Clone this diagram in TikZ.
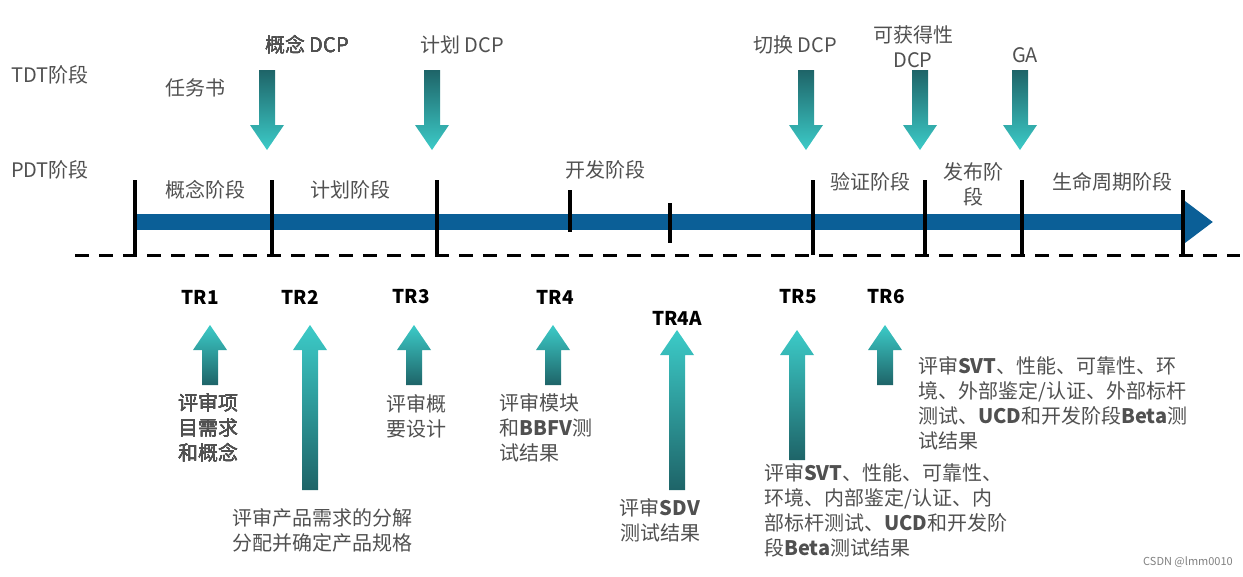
\documentclass[tikz,border=0pt]{standalone}
\usepackage{fontspec}
\setmainfont{Noto Sans CJK SC}
\usetikzlibrary{arrows.meta}
\definecolor{barblue}{HTML}{0B5F97}
\definecolor{tealdark}{HTML}{1E6468}
\definecolor{teallight}{HTML}{3CCBC8}
\definecolor{txtgray}{HTML}{505050}
% shaded block arrows: x, top y, tip/bottom y
\newcommand{\dnarrow}[3]{%
  \shade[top color=tealdark, bottom color=teallight]
    (#1-8,#2) -- (#1+8,#2) -- (#1+8,#3-25) -- (#1+17,#3-25) -- (#1,#3)
    -- (#1-17,#3-25) -- (#1-8,#3-25) -- cycle;}
\newcommand{\uparr}[3]{%
  \shade[top color=teallight, bottom color=tealdark]
    (#1-8,#3) -- (#1+8,#3) -- (#1+8,#2+25) -- (#1+17,#2+25) -- (#1,#2)
    -- (#1-17,#2+25) -- (#1-8,#2+25) -- cycle;}
\begin{document}
\begin{tikzpicture}[x=1pt,y=-1pt,
  every node/.style={text=txtgray,font=\fontsize{20}{25}\selectfont\mdseries,inner sep=1pt},
  tr/.style={text=black,font=\fontsize{19}{25}\selectfont\bfseries},
  desc/.style={align=center},
  tick/.style={line width=4pt}]
\useasboundingbox (0,0) rectangle (1243,576);
% phase rows
\node (tdt) at (50,75) {TDT阶段};
\node (pdt) at (50,170) {PDT阶段};
% time bar
\draw[line width=16pt,barblue,-{Triangle[length=28pt,width=40pt]}] (135,222) -- (1213,222);
\draw[line width=3pt,dash pattern=on 14pt off 10pt] (75,255) -- (1240,255);
\foreach \x/\a/\b in {135/180/255,272/180/255,437/180/255,570/190/232,670/203/243,
                      813/180/255,925/180/255,1022/180/255,1183/190/255}
  \draw[tick] (\x,\a) -- (\x,\b);
% stages
\node (s1) at (205,190) {概念阶段};
\node (s2) at (350,190) {计划阶段};
\node (s3) at (605,170) {开发阶段};
\node (s4) at (870,182) {验证阶段};
\node[desc] (s5) at (973,184) {发布阶\\段};
\node (s6) at (1112,182) {生命周期阶段};
% DCP arrows
\foreach \x in {267,432,806,920,1020}
  \dnarrow{\x}{70}{150}
\node (d1) at (307,45) {概念 DCP};
\node (d2) at (462,45) {计划 DCP};
\node (d3) at (795,45) {切换 DCP};
\node[desc] (d4) at (913,47) {可获得性\\DCP};
\node (d5) at (1025,55) {GA};
\node (rw) at (195,88) {任务书};
% TR reviews
\node[tr] (tr1) at (200,297) {TR1};
\node[tr] (tr2) at (300,297) {TR2};
\node[tr] (tr3) at (411,297) {TR3};
\node[tr] (tr4) at (555,297) {TR4};
\node[tr] (tr4a) at (677,318) {TR4A};
\node[tr] (tr5) at (798,297) {TR5};
\node[tr] (tr6) at (886,297) {TR6};
\foreach \x/\a/\b in {210/325/385,310/325/490,414/325/385,553/325/385,
                      677/330/490,797/330/460,885/325/385}
  \uparr{\x}{\a}{\b}
\node[desc] (r1) at (208,428) {评审项\\目需求\\和概念};
\node[desc] (r2) at (322,530) {评审产品需求的分解\\分配并确定产品规格};
\node[desc] (r3) at (416,416) {评审概\\要设计};
\node[desc,align=left] (r4) at (546,428) {评审模块\\和\textbf{BBFV}测\\试结果};
\node[desc] (r4a) at (660,520) {评审\textbf{SDV}\\测试结果};
\node[align=left,anchor=north west] (r5) at (763,462)
  {评审\textbf{SVT}、性能、可靠性、\\环境、内部鉴定/认证、内\\部标杆测试、\textbf{UCD}和开发阶\\段\textbf{Beta}测试结果};
\node[align=left,anchor=north west] (r6) at (917,355)
  {评审\textbf{SVT}、性能、可靠性、环\\境、外部鉴定/认证、外部标杆\\测试、\textbf{UCD}和开发阶段\textbf{Beta}测\\试结果};
\node[font=\fontsize{11}{13}\selectfont,text=gray] (wm) at (1188,562) {CSDN @lmm0010};
\end{tikzpicture}
\end{document}
